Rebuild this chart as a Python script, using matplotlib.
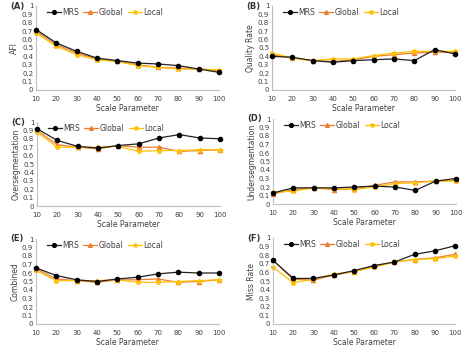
import matplotlib
matplotlib.use('Agg')
import matplotlib.pyplot as plt

scale = [10, 20, 30, 40, 50, 60, 70, 80, 90, 100]

afi_mrs = [0.72, 0.56, 0.46, 0.38, 0.35, 0.32, 0.31, 0.29, 0.25, 0.21]
afi_global = [0.70, 0.54, 0.44, 0.37, 0.34, 0.30, 0.27, 0.26, 0.25, 0.23]
afi_local = [0.68, 0.52, 0.42, 0.36, 0.34, 0.29, 0.27, 0.25, 0.25, 0.24]

qr_mrs = [0.40, 0.39, 0.35, 0.33, 0.35, 0.36, 0.37, 0.35, 0.48, 0.43]
qr_global = [0.42, 0.38, 0.35, 0.34, 0.36, 0.40, 0.42, 0.44, 0.45, 0.45]
qr_local = [0.44, 0.38, 0.35, 0.37, 0.37, 0.41, 0.44, 0.46, 0.46, 0.46]

over_mrs = [0.92, 0.78, 0.71, 0.69, 0.72, 0.74, 0.81, 0.85, 0.81, 0.80]
over_global = [0.90, 0.73, 0.70, 0.68, 0.72, 0.70, 0.70, 0.65, 0.66, 0.67]
over_local = [0.88, 0.70, 0.70, 0.70, 0.71, 0.65, 0.66, 0.66, 0.67, 0.67]

under_mrs = [0.13, 0.19, 0.19, 0.19, 0.20, 0.21, 0.20, 0.16, 0.27, 0.30]
under_global = [0.12, 0.17, 0.19, 0.17, 0.18, 0.22, 0.26, 0.26, 0.27, 0.28]
under_local = [0.14, 0.15, 0.19, 0.18, 0.17, 0.20, 0.24, 0.25, 0.27, 0.27]

comb_mrs = [0.66, 0.57, 0.52, 0.50, 0.53, 0.55, 0.59, 0.61, 0.60, 0.60]
comb_global = [0.65, 0.53, 0.51, 0.49, 0.52, 0.52, 0.53, 0.49, 0.50, 0.52]
comb_local = [0.63, 0.51, 0.51, 0.51, 0.52, 0.49, 0.49, 0.50, 0.51, 0.52]

miss_mrs = [0.74, 0.53, 0.53, 0.57, 0.62, 0.68, 0.72, 0.81, 0.85, 0.91]
miss_global = [0.74, 0.52, 0.51, 0.57, 0.61, 0.67, 0.72, 0.75, 0.77, 0.81]
miss_local = [0.66, 0.48, 0.52, 0.58, 0.61, 0.66, 0.72, 0.75, 0.76, 0.79]

panels = [
    ('(A)', 'AFI', afi_mrs, afi_global, afi_local),
    ('(B)', 'Quality Rate', qr_mrs, qr_global, qr_local),
    ('(C)', 'Oversegmentation', over_mrs, over_global, over_local),
    ('(D)', 'Undersegmentation', under_mrs, under_global, under_local),
    ('(E)', 'Combined', comb_mrs, comb_global, comb_local),
    ('(F)', 'Miss Rate', miss_mrs, miss_global, miss_local),
]

plt.rcParams['font.family'] = ['DejaVu Sans']
fig = plt.figure(figsize=(4.74, 3.49), dpi=100)

W, H = 474, 349
# pixel boxes: left, top, right, bottom
boxes = [
    (36, 6, 219, 90), (272, 6, 455, 90),
    (37, 122, 220, 206), (273, 119, 456, 204),
    (36, 239, 219, 324), (273, 238, 455, 324),
]

for (lab, ylab, m, g, l), (x0, y0, x1, y1) in zip(panels, boxes):
    ax = fig.add_axes([x0 / W, 1 - y1 / H, (x1 - x0) / W, (y1 - y0) / H])
    ax.plot(scale, m, color='#222222', lw=0.9, marker='o', ms=3,
            mfc='black', mec='black', label='MRS', clip_on=False, zorder=3)
    ax.plot(scale, g, color='#ED7D31', lw=0.9, marker='^', ms=3,
            label='Global', clip_on=False, zorder=2)
    ax.plot(scale, l, color='#FFC000', lw=0.9, marker='*', ms=3.5,
            label='Local', clip_on=False, zorder=2)
    ax.set_xlim(10, 100)
    ax.set_ylim(0, 1)
    ax.set_xticks(scale)
    ax.set_yticks([i / 10 for i in range(11)])
    ax.set_yticklabels(['0'] + ['%.1f' % (i / 10) for i in range(1, 10)] + ['1'])
    ax.tick_params(labelsize=5, length=0, pad=2, colors='#404040')
    ax.tick_params(axis='x', pad=4)
    for s in ['top', 'right']:
        ax.spines[s].set_visible(False)
    for s in ['left', 'bottom']:
        ax.spines[s].set_color('#c0c0c0')
        ax.spines[s].set_linewidth(0.8)
    ax.set_xlabel('Scale Parameter', fontsize=5.5, color='#404040', labelpad=2)
    ax.set_ylabel(ylab, fontsize=5.5, color='#404040', labelpad=2)
    ax.legend(loc='upper left', bbox_to_anchor=(0.03, 1.04), ncol=3, frameon=False,
              fontsize=5.5, handlelength=1.8, columnspacing=0.6, handletextpad=0.2,
              borderpad=0.2, labelcolor='#404040', markerscale=0.9)
    ax.text(-0.14, 1.0, lab, transform=ax.transAxes, fontsize=6,
            fontweight='bold', color='#333333', va='center', ha='left')

fig.savefig('out.png', dpi=100)
